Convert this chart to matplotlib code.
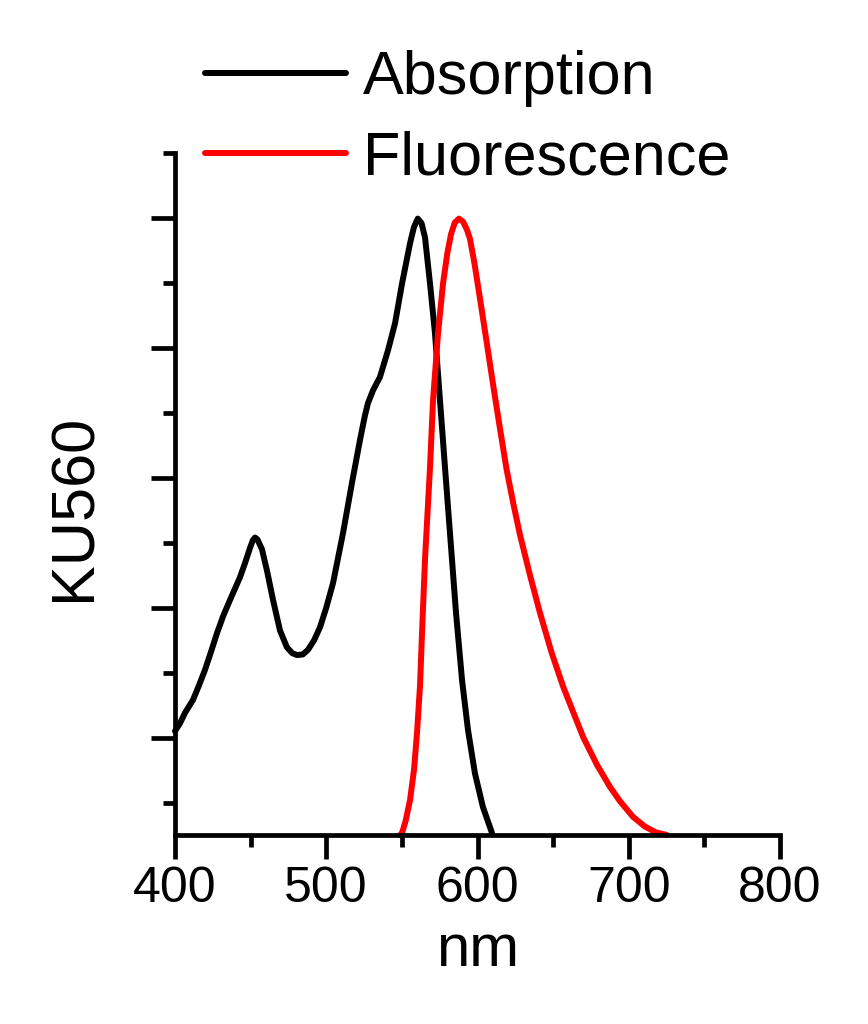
import numpy as np
from matplotlib import pyplot as plt

plt.rcParams['font.family'] = ['Liberation Sans', 'DejaVu Sans']

# absorption spectrum of KU560
abs_nm = [400.0, 403.3, 406.6, 411.9, 415.8, 419.8, 423.8, 427.8, 432.0, 436.4,
          443.0, 446.5, 449.6, 451.5, 452.9, 454.5, 457.5, 461.0, 464.8, 469.4,
          474.0, 477.5, 480.7, 484.5, 487.9, 492.0, 495.9, 500.0, 504.5, 511.1,
          517.0, 522.3, 525.5, 527.6, 531.0, 535.5, 540.8, 545.5, 550.1, 555.4,
          558.0, 560.5, 563.0, 565.3, 568.6, 571.9, 575.2, 578.5, 581.8, 585.8,
          589.8, 593.7, 598.3, 603.6, 609.6]
abs_val = [1.60, 1.72, 1.88, 2.08, 2.30, 2.54, 2.82, 3.11, 3.38, 3.62,
           3.97, 4.20, 4.42, 4.54, 4.58, 4.55, 4.40, 4.05, 3.62, 3.15,
           2.89, 2.80, 2.77, 2.78, 2.85, 3.00, 3.20, 3.50, 3.88, 4.65,
           5.42, 6.08, 6.45, 6.65, 6.85, 7.05, 7.46, 7.88, 8.49, 9.11,
           9.36, 9.49, 9.42, 9.20, 8.49, 7.72, 6.69, 5.66, 4.65, 3.42,
           2.38, 1.62, 0.95, 0.43, 0.03]

# fluorescence spectrum
fl_nm = [548.8, 550.1, 552.5, 555.4, 558.0, 560.0, 562.0, 563.3, 565.3, 568.6,
         570.6, 573.9, 577.2, 580.0, 582.5, 585.0, 587.8, 590.5, 593.0, 595.0,
         598.0, 601.7, 606.3, 610.4, 614.9, 619.3, 623.7, 628.1, 634.7, 641.3,
         649.1, 656.7, 664.5, 670.0, 679.0, 687.6, 694.2, 702.8, 710.7, 718.0,
         725.3]
fl_val = [0.0, 0.03, 0.22, 0.54, 1.00, 1.57, 2.30, 3.10, 4.25, 5.66,
          6.69, 7.72, 8.49, 8.95, 9.25, 9.43, 9.49, 9.44, 9.32, 9.18,
          8.80, 8.25, 7.55, 6.92, 6.25, 5.62, 5.10, 4.62, 4.00, 3.42,
          2.80, 2.28, 1.82, 1.50, 1.08, 0.74, 0.52, 0.28, 0.13, 0.04,
          0.0]

x_major = [400, 500, 600, 700, 800]
x_minor = [450, 550, 650, 750]
y_major = [1.5, 3.5, 5.5, 7.5, 9.5]
y_minor = [0.5, 2.5, 4.5, 6.5, 8.5, 10.5]

fig = plt.figure(figsize=(8.68, 10.24), dpi=100)
ax = fig.add_axes([175/868, 1 - 835/1024, 605/868, 682/1024])

lw = 4.3
ax.plot(abs_nm, abs_val, color='black', lw=lw, label='Absorption',
        clip_on=False, solid_joinstyle='round', solid_capstyle='round')
ax.plot(fl_nm, fl_val, color='#ff0000', lw=lw, label='Fluorescence',
        clip_on=False, solid_joinstyle='round', solid_capstyle='round')

ax.set_xlim(400, 800)
ax.set_ylim(0, 10.5)

for side in ['top', 'right']:
    ax.spines[side].set_visible(False)
for side in ['left', 'bottom']:
    ax.spines[side].set_linewidth(3.4)
    ax.spines[side].set_capstyle('projecting')

ax.set_xticks(x_major)
ax.set_xticks(x_minor, minor=True)
ax.set_yticks(y_major)
ax.set_yticks(y_minor, minor=True)
ax.set_yticklabels([])
ax.tick_params(which='major', direction='out', length=17, width=3.4, labelsize=36, pad=5)
ax.tick_params(which='minor', direction='out', length=8.5, width=3.4)

ax.set_xlabel('nm', fontsize=43, labelpad=8)
ax.set_ylabel('KU560', fontsize=44)
ax.yaxis.set_label_coords(-0.118, 0.48)

leg = ax.legend(loc='upper left', bbox_to_anchor=(205/868, 1 - 50/1024),
                bbox_transform=fig.transFigure, frameon=False, fontsize=44,
                handlelength=2.3, handletextpad=0.28, borderpad=0,
                borderaxespad=0, labelspacing=0.38)

fig.savefig('out.png', dpi=100)
